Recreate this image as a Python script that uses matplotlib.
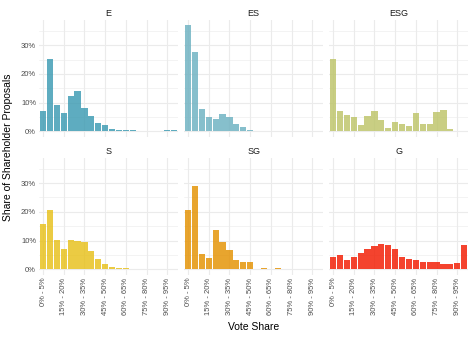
import numpy as np
import matplotlib
matplotlib.use("Agg")
import matplotlib.pyplot as plt
from matplotlib.ticker import MultipleLocator, FuncFormatter

plt.rcParams["font.family"] = ["Liberation Sans", "DejaVu Sans"]

# --- Data (share of proposals per vote-share bin, in %) ---
bins = [f"{lo}% - {lo + 5}%" for lo in range(0, 100, 5)]
groups = ["E", "ES", "ESG", "S", "SG", "G"]

share_E = [7.0, 25.2, 9.2, 6.3, 12.4, 14.0, 8.1, 5.3, 3.0, 2.2,
           0.9, 0.6, 0.6, 0.6, 0.25, 0.25, 0.2, 0.1, 0.35, 0.35]
share_ES = [36.9, 27.6, 7.8, 5.0, 4.5, 6.2, 5.1, 2.7, 1.4, 0.6,
            0.2, 0.2, 0.1, 0.1, 0.0, 0.0, 0.0, 0.1, 0.2, 0.2]
share_ESG = [25.2, 7.0, 5.7, 4.9, 2.1, 5.3, 7.0, 4.0, 1.2, 3.4,
             2.6, 2.0, 6.5, 2.6, 2.6, 6.6, 7.6, 0.7, 0.25, 0.0]
share_S = [15.7, 20.7, 10.3, 7.2, 10.3, 9.9, 9.4, 6.4, 3.7, 1.9,
           0.9, 0.6, 0.35, 0.2, 0.1, 0.1, 0.1, 0.1, 0.1, 0.1]
share_SG = [20.7, 29.1, 5.3, 4.0, 13.7, 9.4, 6.7, 3.4, 2.6, 2.6,
            0.0, 0.5, 0.0, 0.5, 0.0, 0.0, 0.0, 0.0, 0.0, 0.0]
share_G = [4.4, 4.9, 3.3, 4.2, 5.6, 7.0, 8.0, 8.8, 8.5, 7.0,
           4.2, 3.6, 3.1, 2.6, 2.6, 2.6, 2.0, 2.0, 2.3, 8.5]

values = [share_E, share_ES, share_ESG, share_S, share_SG, share_G]
colors = ["#3B9AB2", "#6CB1C1", "#BDC468", "#E7C019", "#E49100", "#F21A00"]

# --- Layout (ggplot-like facet grid) ---
W, H = 474, 338
fig = plt.figure(figsize=(W / 100, H / 100), dpi=100)

panel_w = 139.4
step = 145.0
left0 = 38.9
rows_px = [(20.0, 136.8), (158.0, 274.6)]

ymax = max(max(v) for v in values)
ylim = (-0.05 * ymax, ymax * 1.05)
x = np.arange(len(bins))

grid_col = "#EBEBEB"
text_col = "#4D4D4D"

for i, (name, vals, col) in enumerate(zip(groups, values, colors)):
    r, c = divmod(i, 3)
    top, bot = rows_px[r]
    ax = fig.add_axes([(left0 + c * step) / W, (H - bot) / H,
                       panel_w / W, (bot - top) / H])
    ax.bar(x, vals, width=0.9, color=col, alpha=0.82, zorder=2)
    ax.set_xlim(-0.6, len(bins) - 0.4)
    ax.set_ylim(*ylim)

    ax.yaxis.set_major_locator(MultipleLocator(10))
    ax.yaxis.set_minor_locator(MultipleLocator(5))
    ax.yaxis.set_major_formatter(FuncFormatter(lambda v, p: f"{v:.0f}%"))
    ax.set_xticks(x[::3])
    ax.set_xticklabels(bins[::3])

    ax.grid(which="major", axis="both", color=grid_col, linewidth=0.8, zorder=0)
    ax.grid(which="minor", axis="y", color=grid_col, linewidth=0.4, zorder=0)
    for s in ax.spines.values():
        s.set_visible(False)
    ax.tick_params(which="both", length=0, labelsize=5.5, labelcolor=text_col, pad=2)
    ax.tick_params(axis="x", labelrotation=90)

    if c != 0:
        ax.tick_params(axis="y", labelleft=False)
    if r == 0:
        ax.tick_params(axis="x", labelbottom=False)
    else:
        for lab in ax.get_xticklabels():
            lab.set_va("top")
            lab.set_ha("center")

    ax.set_title(name, fontsize=6.5, color="#1A1A1A", pad=3)

fig.text(253.6 / W, 1 - 327 / H, "Vote Share", ha="center", va="center",
         fontsize=7.5, color="black")
fig.text(8 / W, 1 - 147 / H, "Share of Shareholder Proposals", ha="center",
         va="center", rotation=90, fontsize=7.5, color="black")

fig.savefig("out.png", dpi=100, facecolor="white")
